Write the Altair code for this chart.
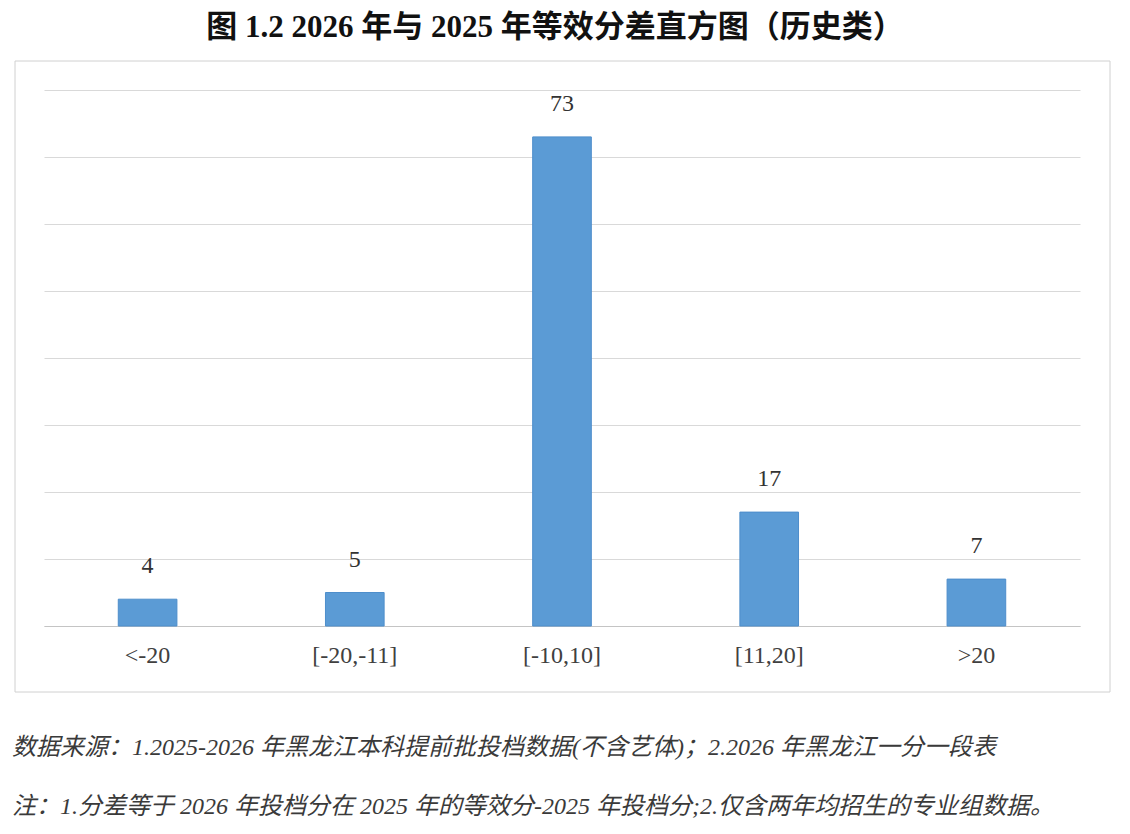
import altair as alt
import pandas as pd

# ---- data ----
categories = ["<-20", "[-20,-11]", "[-10,10]", "[11,20]", ">20"]
counts = [4, 5, 73, 17, 7]
y_ticks = [0, 10, 20, 30, 40, 50, 60, 70, 80]
title_text = "图 1.2 2026 年与 2025 年等效分差直方图（历史类）"
note_source = "数据来源：1.2025-2026 年黑龙江本科提前批投档数据(不含艺体)；2.2026 年黑龙江一分一段表"
note_remark = "注：1.分差等于 2026 年投档分在 2025 年的等效分-2025 年投档分;2.仅含两年均招生的专业组数据。"

df = pd.DataFrame({"区间": categories, "数量": counts})

SERIF = "Liberation Serif, Noto Sans CJK SC"
W, H = 1036, 536

xscale = alt.Scale(domain=categories, paddingInner=0.717, paddingOuter=0.3585)
yscale = alt.Scale(domain=[0, 80], nice=False)

one = pd.DataFrame({"k": [0]})

frame = alt.Chart(one).mark_rect(
    fill="white", fillOpacity=0, stroke="#d0d0d0", strokeWidth=1
).encode(x=alt.value(-29), x2=alt.value(1066), y=alt.value(-29), y2=alt.value(602))

base = alt.Chart(df)

bars = base.mark_bar(color="#5b9bd5", stroke="#4e8ecb", strokeWidth=1).encode(
    x=alt.X(
        "区间:N",
        scale=xscale,
        axis=alt.Axis(
            title=None,
            labelAngle=0,
            ticks=False,
            grid=False,
            domainColor="#c4c4c4",
            domainWidth=1,
            labelFont=SERIF,
            labelFontSize=24,
            labelColor="#404040",
            labelPadding=29,
            labelBaseline="middle",
        ),
    ),
    y=alt.Y(
        "数量:Q",
        scale=yscale,
        axis=alt.Axis(
            title=None,
            values=y_ticks,
            labels=False,
            ticks=False,
            domain=False,
            grid=True,
            gridColor="#d9d9d9",
            gridWidth=1,
        ),
    ),
)

value_labels = base.mark_text(
    dy=-33, baseline="middle", align="center", fontSize=24, font=SERIF, color="#333333"
).encode(x=alt.X("区间:N", scale=xscale), y=alt.Y("数量:Q", scale=yscale), text="数量:Q")

title = alt.Chart(pd.DataFrame({"t": [title_text]})).mark_text(
    fontSize=31, fontWeight="bold", font=SERIF, align="center", baseline="middle", color="#111111"
).encode(x=alt.value(511), y=alt.value(-62), text="t:N")

foot1 = alt.Chart(pd.DataFrame({"t": [note_source]})).mark_text(
    fontSize=24, fontStyle="italic", font=SERIF, align="left", baseline="middle", color="#3a3a3a"
).encode(x=alt.value(-32), y=alt.value(658), text="t:N")

foot2 = alt.Chart(pd.DataFrame({"t": [note_remark]})).mark_text(
    fontSize=24, fontStyle="italic", font=SERIF, align="left", baseline="middle", color="#3a3a3a"
).encode(x=alt.value(-32), y=alt.value(717), text="t:N")

chart = (
    alt.layer(frame, bars, value_labels, title, foot1, foot2)
    .properties(
        width=W,
        height=H,
        autosize=alt.AutoSizeParams(type="none"),
        padding={"left": 36, "top": 82, "right": 40, "bottom": 192},
        background="white",
    )
    .configure_view(stroke="transparent")
)

chart.save("out.html", embed_options={"renderer": "svg", "actions": False})
